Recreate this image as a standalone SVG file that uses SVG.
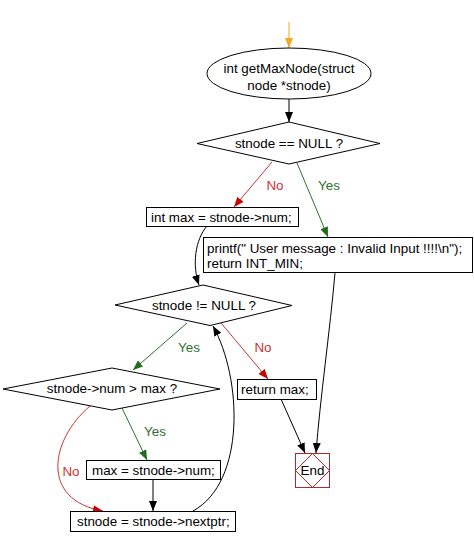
<svg xmlns="http://www.w3.org/2000/svg" width="474" height="546" viewBox="0 0 474 546">
<style>
  .n { fill: #ffffff; stroke: #000000; stroke-width: 1; }
  .t { font-family: "Liberation Sans", Arial, sans-serif; font-size: 13.4px; fill: #000000; }
  .c { text-anchor: middle; }
  .e { fill: none; stroke: #000000; stroke-width: 1; }
  .red { stroke: #cc3333; }
  .green { stroke: #2e7030; }
  .orange { stroke: #f5a623; }
  .lno { font-family: "Liberation Sans", Arial, sans-serif; font-size: 13.4px; fill: #cc3333; }
  .lyes { font-family: "Liberation Sans", Arial, sans-serif; font-size: 13.4px; fill: #2e7030; }
  .end { fill: #ffffff; stroke: #b02828; stroke-width: 1; }
</style>
<defs>
  <marker id="ab" markerUnits="userSpaceOnUse" markerWidth="10" markerHeight="8" refX="10" refY="4" orient="auto"><path d="M0,0 L10,4 L0,8 z" fill="#000000"/></marker>
  <marker id="ar" markerUnits="userSpaceOnUse" markerWidth="10" markerHeight="8" refX="10" refY="4" orient="auto"><path d="M0,0 L10,4 L0,8 z" fill="#cc0000"/></marker>
  <marker id="ag" markerUnits="userSpaceOnUse" markerWidth="10" markerHeight="8" refX="10" refY="4" orient="auto"><path d="M0,0 L10,4 L0,8 z" fill="#1f6b1f"/></marker>
  <marker id="ao" markerUnits="userSpaceOnUse" markerWidth="10" markerHeight="8" refX="10" refY="4" orient="auto"><path d="M0,0 L10,4 L0,8 z" fill="#f5a623"/></marker>
</defs>
<rect x="0" y="0" width="474" height="546" fill="#ffffff"/>

<g id="connectors">
  <path class="e orange" d="M289,22 L289,48" marker-end="url(#ao)"/>
  <path class="e" d="M289,99 L289,122" marker-end="url(#ab)"/>
  <path class="e red" d="M272,162 L234,207" marker-end="url(#ar)"/>
  <path class="e green" d="M297,163 L328,237" marker-end="url(#ag)"/>
  <path class="e" d="M207,226 C195,240 192,265 199,285" marker-end="url(#ab)"/>
  <path class="e" d="M335,273 C330,330 320,400 316,453" marker-end="url(#ab)"/>
  <path class="e red" d="M221,323 L268,379" marker-end="url(#ar)"/>
  <path class="e green" d="M187,323 L133,370" marker-end="url(#ag)"/>
  <path class="e green" d="M122,408 L147,460" marker-end="url(#ag)"/>
  <path class="e" d="M153,480 L153,511" marker-end="url(#ab)"/>
  <path class="e red" d="M90,406 C50,440 40,500 103,511" marker-end="url(#ar)"/>
  <path class="e" d="M193,511 C246,482 242,378 213,326" marker-end="url(#ab)"/>
  <path class="e" d="M281,399 L305,453" marker-end="url(#ab)"/>
  <text class="lno" x="275" y="190" text-anchor="middle">No</text>
  <text class="lyes" x="329" y="190" text-anchor="middle">Yes</text>
  <text class="lno" x="263" y="352" text-anchor="middle">No</text>
  <text class="lyes" x="189" y="352" text-anchor="middle">Yes</text>
  <text class="lyes" x="155" y="436" text-anchor="middle">Yes</text>
  <text class="lno" x="71" y="476" text-anchor="middle">No</text>
</g>

<g id="start">
  <ellipse class="n" cx="289" cy="73.5" rx="82" ry="25.5"/>
  <text class="t c" x="289" y="73">int getMaxNode(struct</text>
  <text class="t c" x="289" y="90">node *stnode)</text>
</g>

<g id="dec1">
  <polygon class="n" points="289,122 380,143.5 289,164 197,143.5"/>
  <text class="t c" x="289" y="148">stnode == NULL ?</text>
</g>

<g id="intmax">
  <rect class="n" x="146.5" y="207.5" width="152" height="19"/>
  <text class="t" x="151" y="222">int max = stnode-&gt;num;</text>
</g>

<g id="printf">
  <rect class="n" x="203.5" y="237.5" width="269" height="35"/>
  <text class="t" x="207" y="253">printf(" User message : Invalid Input !!!!\n");</text>
  <text class="t" x="207" y="268">return INT_MIN;</text>
</g>

<g id="dec2">
  <polygon class="n" points="203,285 292,305.5 210,325.5 115,305"/>
  <text class="t c" x="204" y="310">stnode != NULL ?</text>
</g>

<g id="returnmax">
  <rect class="n" x="237.5" y="379.5" width="79" height="20"/>
  <text class="t" x="241" y="394">return max;</text>
</g>

<g id="dec3">
  <polygon class="n" points="112,368 220,389 112,410 3,389"/>
  <text class="t c" x="112" y="393">stnode-&gt;num &gt; max ?</text>
</g>

<g id="maxassign">
  <rect class="n" x="86.5" y="460.5" width="134" height="19"/>
  <text class="t" x="92" y="475">max = stnode-&gt;num;</text>
</g>

<g id="nextptr">
  <rect class="n" x="70.5" y="511.5" width="165" height="20"/>
  <text class="t" x="77" y="526">stnode = stnode-&gt;nextptr;</text>
</g>

<g id="end">
  <rect class="end" x="295.5" y="453.5" width="34" height="34"/>
  <polygon class="end" points="312.5,453.5 329.5,470.5 312.5,487.5 295.5,470.5"/>
  <text class="t c" x="312.5" y="475">End</text>
</g>
</svg>
